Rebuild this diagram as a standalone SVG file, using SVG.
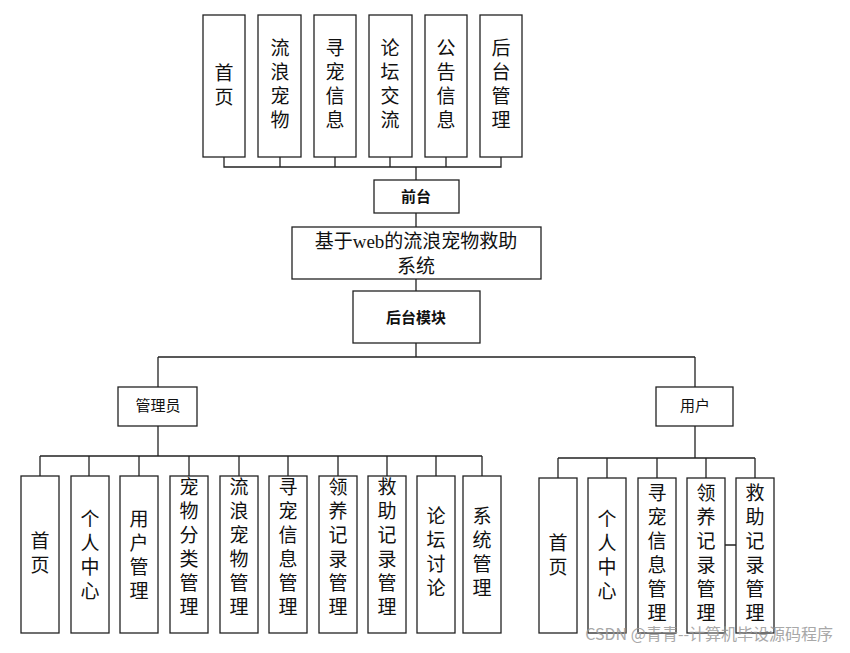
<svg xmlns="http://www.w3.org/2000/svg" width="850" height="653" viewBox="0 0 850 653">
<style>
.b{fill:#fff;stroke:#222;stroke-width:1.3}
.t{font-family:"Liberation Serif","Noto Sans CJK SC",serif;font-size:19px;fill:#111;text-anchor:middle}
.s{font-family:"Noto Sans CJK SC",sans-serif;font-size:15px;fill:#111;text-anchor:middle}
.l{stroke:#222;stroke-width:1.3;fill:none}
</style>
<rect width="850" height="653" fill="#fff"/>
<g id="connectors">
<path class="l" d="M224 157V167H501V157M280 157V167M335 157V167M390 157V167M446 157V167M416 167V180M416 213V227M416 279V291M416 343V357M158 357H695M158 357V387M695 357V387M158 426V456M40 456H482M40 456V476M89 456V476M139 456V476M189 456V476M239 456V476M288 456V476M338 456V476M387 456V476M436 456V476M482 456V476M695 426V458M558 458H755M558 458V478M607 458V478M657 458V478M706 458V478M755 458V478M725 545H736"/>
</g>
<g id="n1"><rect class="b" x="203" y="15" width="42" height="142"/><text class="t" x="224" y="80">首</text><text class="t" x="224" y="104">页</text></g>
<g id="n2"><rect class="b" x="258" y="15" width="43" height="142"/><text class="t" x="280" y="55">流</text><text class="t" x="280" y="79">浪</text><text class="t" x="280" y="103">宠</text><text class="t" x="280" y="127">物</text></g>
<g id="n3"><rect class="b" x="314" y="15" width="42" height="142"/><text class="t" x="335" y="55">寻</text><text class="t" x="335" y="79">宠</text><text class="t" x="335" y="103">信</text><text class="t" x="335" y="127">息</text></g>
<g id="n4"><rect class="b" x="369" y="15" width="43" height="142"/><text class="t" x="390" y="55">论</text><text class="t" x="390" y="79">坛</text><text class="t" x="390" y="103">交</text><text class="t" x="390" y="127">流</text></g>
<g id="n5"><rect class="b" x="425" y="15" width="42" height="142"/><text class="t" x="446" y="55">公</text><text class="t" x="446" y="79">告</text><text class="t" x="446" y="103">信</text><text class="t" x="446" y="127">息</text></g>
<g id="n6"><rect class="b" x="480" y="15" width="42" height="142"/><text class="t" x="501" y="55">后</text><text class="t" x="501" y="79">台</text><text class="t" x="501" y="103">管</text><text class="t" x="501" y="127">理</text></g>
<g id="qiantai"><rect class="b" x="374" y="180" width="85" height="33"/><text class="s" x="416" y="202" font-weight="bold">前台</text></g>
<g id="sys"><rect class="b" x="292" y="227" width="249" height="52"/><text class="t" x="416" y="248">基于web的流浪宠物救助</text><text class="t" x="416" y="273">系统</text></g>
<g id="houtai"><rect class="b" x="353" y="291" width="127" height="52"/><text class="s" x="416" y="323" font-weight="bold">后台模块</text></g>
<g id="admin"><rect class="b" x="118" y="387" width="79" height="39"/><text class="s" x="158" y="411">管理员</text></g>
<g id="user"><rect class="b" x="656" y="387" width="77" height="39"/><text class="s" x="695" y="411">用户</text></g>
<g id="a1"><rect class="b" x="21" y="476" width="38" height="157"/><text class="t" x="40" y="548">首</text><text class="t" x="40" y="572">页</text></g>
<g id="a2"><rect class="b" x="71" y="476" width="38" height="157"/><text class="t" x="90" y="526">个</text><text class="t" x="90" y="550">人</text><text class="t" x="90" y="574">中</text><text class="t" x="90" y="598">心</text></g>
<g id="a3"><rect class="b" x="120" y="476" width="38" height="157"/><text class="t" x="139" y="526">用</text><text class="t" x="139" y="550">户</text><text class="t" x="139" y="574">管</text><text class="t" x="139" y="598">理</text></g>
<g id="a4"><rect class="b" x="170" y="476" width="38" height="157"/><text class="t" x="189" y="494">宠</text><text class="t" x="189" y="518">物</text><text class="t" x="189" y="542">分</text><text class="t" x="189" y="566">类</text><text class="t" x="189" y="590">管</text><text class="t" x="189" y="614">理</text></g>
<g id="a5"><rect class="b" x="220" y="476" width="38" height="157"/><text class="t" x="239" y="494">流</text><text class="t" x="239" y="518">浪</text><text class="t" x="239" y="542">宠</text><text class="t" x="239" y="566">物</text><text class="t" x="239" y="590">管</text><text class="t" x="239" y="614">理</text></g>
<g id="a6"><rect class="b" x="269" y="476" width="38" height="157"/><text class="t" x="288" y="494">寻</text><text class="t" x="288" y="518">宠</text><text class="t" x="288" y="542">信</text><text class="t" x="288" y="566">息</text><text class="t" x="288" y="590">管</text><text class="t" x="288" y="614">理</text></g>
<g id="a7"><rect class="b" x="319" y="476" width="38" height="157"/><text class="t" x="338" y="494">领</text><text class="t" x="338" y="518">养</text><text class="t" x="338" y="542">记</text><text class="t" x="338" y="566">录</text><text class="t" x="338" y="590">管</text><text class="t" x="338" y="614">理</text></g>
<g id="a8"><rect class="b" x="368" y="476" width="38" height="157"/><text class="t" x="387" y="494">救</text><text class="t" x="387" y="518">助</text><text class="t" x="387" y="542">记</text><text class="t" x="387" y="566">录</text><text class="t" x="387" y="590">管</text><text class="t" x="387" y="614">理</text></g>
<g id="a9"><rect class="b" x="417" y="476" width="38" height="157"/><text class="t" x="436" y="523">论</text><text class="t" x="436" y="547">坛</text><text class="t" x="436" y="571">讨</text><text class="t" x="436" y="595">论</text></g>
<g id="a10"><rect class="b" x="463" y="476" width="38" height="157"/><text class="t" x="482" y="523">系</text><text class="t" x="482" y="547">统</text><text class="t" x="482" y="571">管</text><text class="t" x="482" y="595">理</text></g>
<g id="u1"><rect class="b" x="539" y="478" width="38" height="155"/><text class="t" x="558" y="550">首</text><text class="t" x="558" y="574">页</text></g>
<g id="u2"><rect class="b" x="588" y="478" width="38" height="155"/><text class="t" x="607" y="526">个</text><text class="t" x="607" y="550">人</text><text class="t" x="607" y="574">中</text><text class="t" x="607" y="598">心</text></g>
<g id="u3"><rect class="b" x="638" y="478" width="38" height="155"/><text class="t" x="657" y="500">寻</text><text class="t" x="657" y="524">宠</text><text class="t" x="657" y="548">信</text><text class="t" x="657" y="572">息</text><text class="t" x="657" y="596">管</text><text class="t" x="657" y="620">理</text></g>
<g id="u4"><rect class="b" x="687" y="478" width="38" height="155"/><text class="t" x="706" y="500">领</text><text class="t" x="706" y="524">养</text><text class="t" x="706" y="548">记</text><text class="t" x="706" y="572">录</text><text class="t" x="706" y="596">管</text><text class="t" x="706" y="620">理</text></g>
<g id="u5"><rect class="b" x="736" y="478" width="38" height="155"/><text class="t" x="755" y="500">救</text><text class="t" x="755" y="524">助</text><text class="t" x="755" y="548">记</text><text class="t" x="755" y="572">录</text><text class="t" x="755" y="596">管</text><text class="t" x="755" y="620">理</text></g>
<text x="833" y="640" font-family="Noto Sans CJK SC,sans-serif" font-size="16" fill="#999" text-anchor="end" opacity="0.85">CSDN @青青--计算机毕设源码程序</text>
</svg>
